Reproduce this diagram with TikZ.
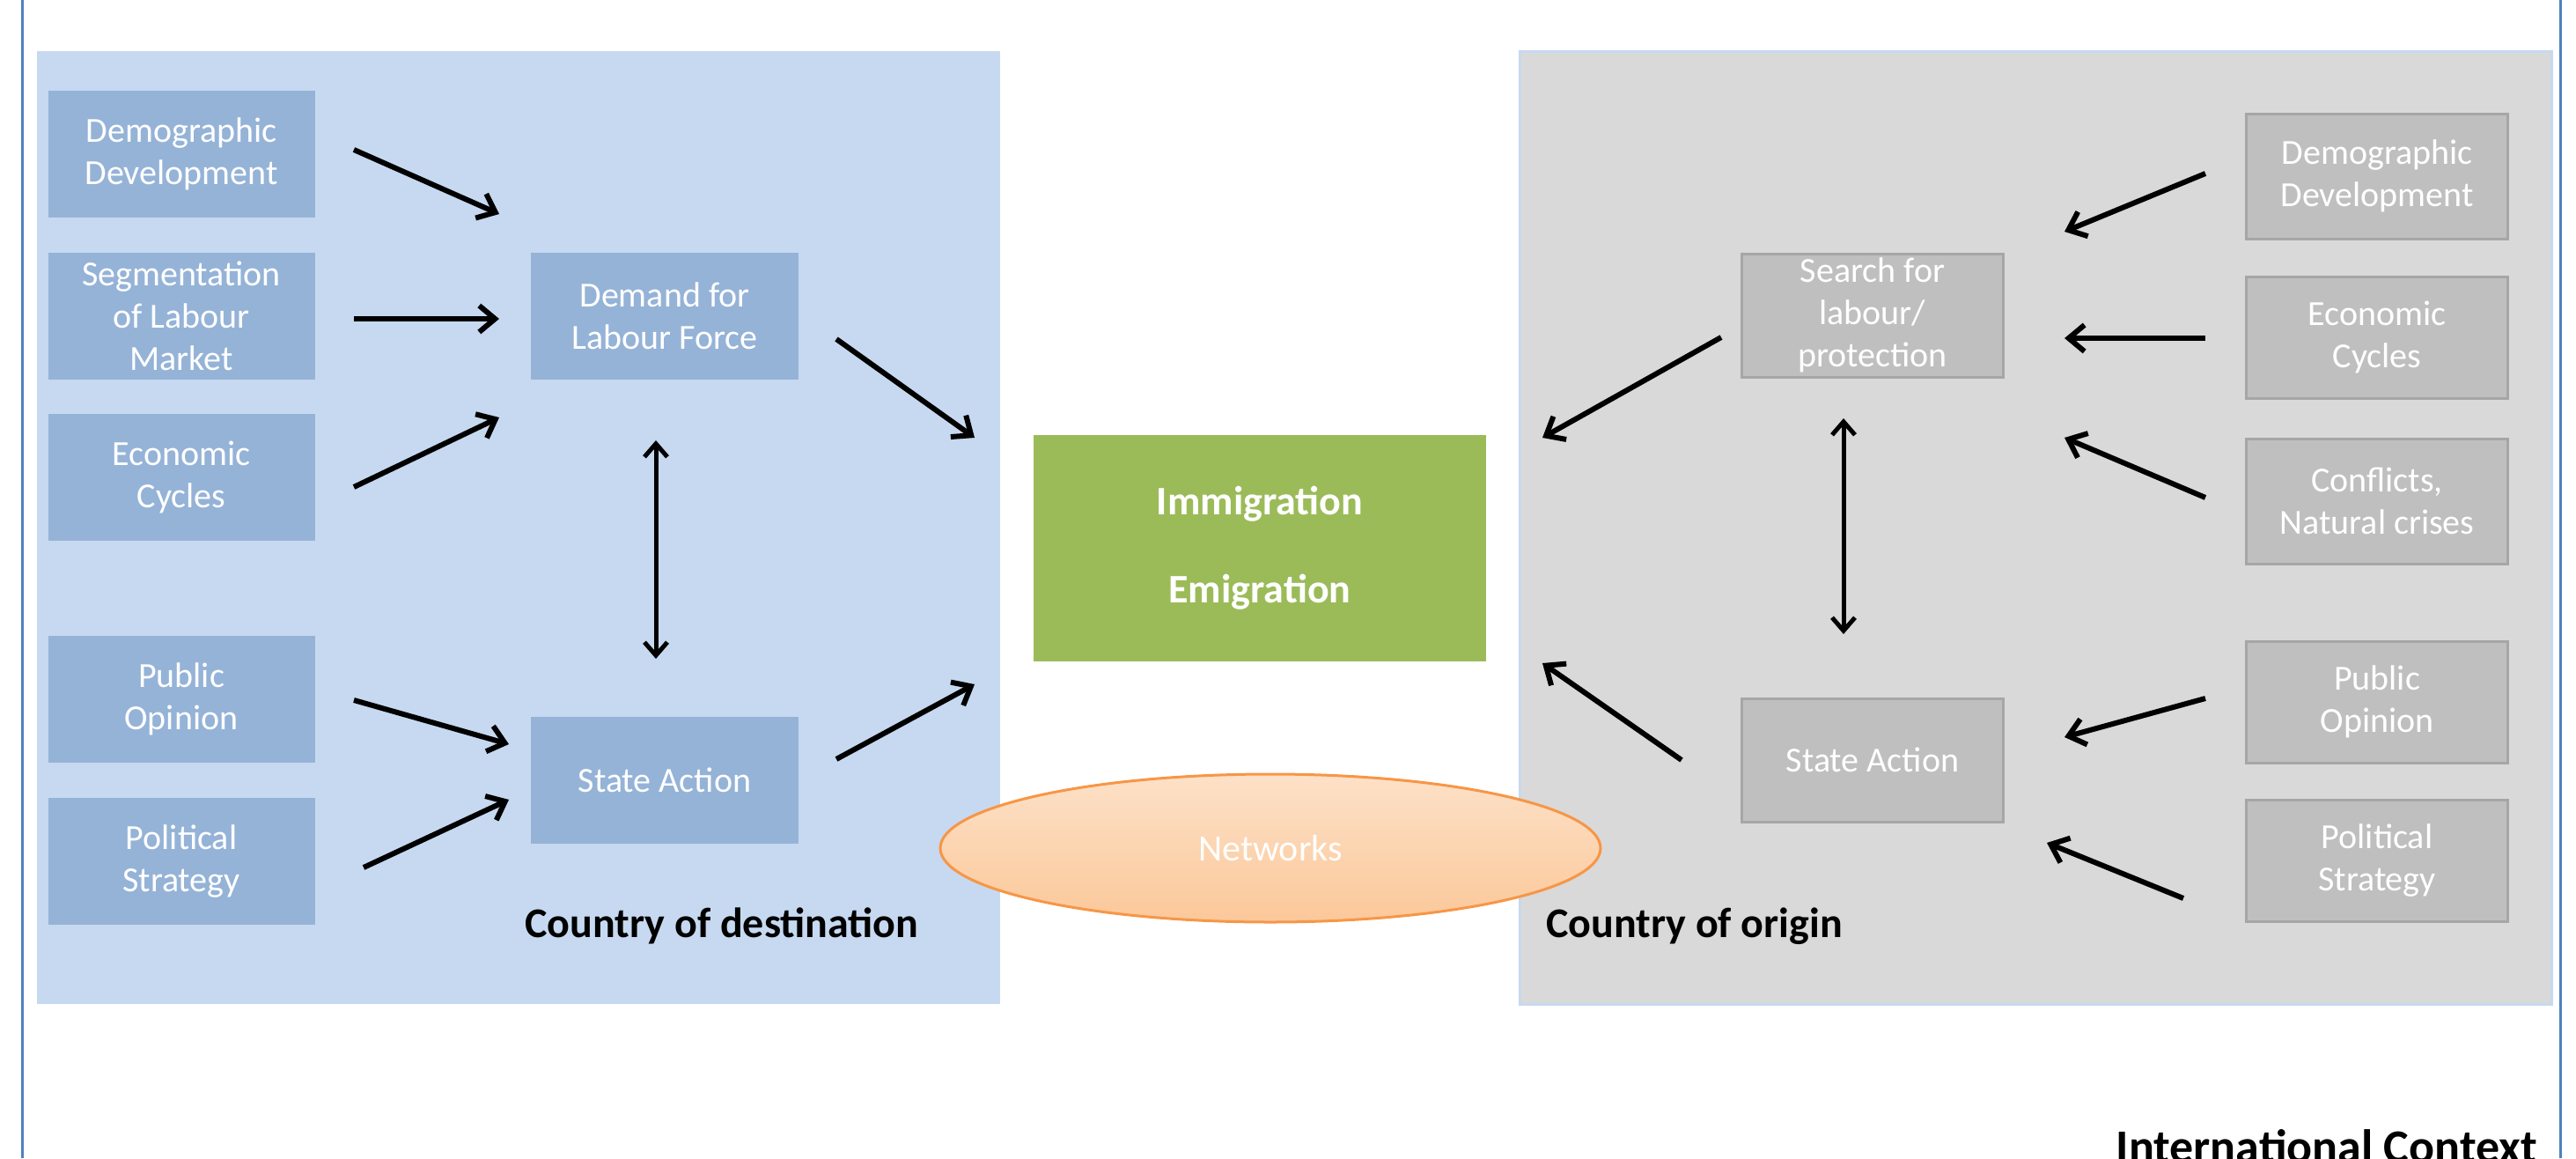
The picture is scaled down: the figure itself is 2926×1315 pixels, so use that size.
\documentclass[tikz,border=0pt]{standalone}
\usepackage{fontspec}
\setmainfont{Carlito}
\usetikzlibrary{arrows.meta,shapes.geometric}
\definecolor{panelL}{HTML}{C6D9F0}
\definecolor{panelR}{HTML}{D9D9D9}
\definecolor{boxL}{HTML}{95B3D7}
\definecolor{boxR}{HTML}{BFBFBF}
\definecolor{boxRb}{HTML}{A6A6A6}
\definecolor{grn}{HTML}{9BBB59}
\definecolor{frame}{HTML}{4F81BD}
\definecolor{orng}{HTML}{F79646}
\definecolor{orngf}{HTML}{FBC89A}
\tikzset{
  lbox/.style={fill=boxL,draw=none,text=white,align=center,inner sep=0pt,font=\fontsize{40}{48}\selectfont},
  rbox/.style={fill=boxR,draw=boxRb,line width=3pt,text=white,align=center,inner sep=0pt,font=\fontsize{40}{48}\selectfont},
  arr/.style={-{Straight Barb[length=18pt,width=30pt,line width=6pt]},line width=6pt,black},
  darr/.style={{Straight Barb[length=15pt,width=26pt,line width=5pt]}-{Straight Barb[length=15pt,width=26pt,line width=5pt]},line width=5pt,black},
  biglbl/.style={font=\fontsize{48}{56}\selectfont\bfseries,inner sep=0pt}
}
\begin{document}
\begin{tikzpicture}[x=1pt,y=-1pt]
\useasboundingbox (0,0) rectangle (2926,1315);
\draw[frame,line width=3pt] (25,0) -- (25,1315);
\draw[frame,line width=3pt] (2908,0) -- (2908,1315);
\fill[panelL] (42,58) rectangle (1136,1140);
\draw[fill=panelR,draw=panelL,line width=3pt] (1726,58) rectangle (2898,1140);
% left boxes
\node[lbox,minimum width=303pt,minimum height=144pt] (ldem) at (206,175) {Demographic\\Development};
\node[lbox,minimum width=303pt,minimum height=144pt] (lseg) at (206,359) {Segmentation\\of Labour\\Market};
\node[lbox,minimum width=303pt,minimum height=144pt] (leco) at (206,542) {Economic\\Cycles};
\node[lbox,minimum width=303pt,minimum height=144pt] (lpub) at (206,794) {Public\\Opinion};
\node[lbox,minimum width=303pt,minimum height=144pt] (lpol) at (206,978) {Political\\Strategy};
\node[lbox,minimum width=304pt,minimum height=144pt] (ldemand) at (755,359) {Demand for\\Labour Force};
\node[lbox,minimum width=304pt,minimum height=144pt] (lstate) at (755,886) {State Action};
% right boxes
\node[rbox,minimum width=297pt,minimum height=142pt] (rdem) at (2700,200) {Demographic\\Development};
\node[rbox,minimum width=297pt,minimum height=138pt] (reco) at (2700,383) {Economic\\Cycles};
\node[rbox,minimum width=297pt,minimum height=142pt] (rcon) at (2700,569) {Conflicts,\\Natural crises};
\node[rbox,minimum width=297pt,minimum height=138pt] (rpub) at (2700,797) {Public\\Opinion};
\node[rbox,minimum width=297pt,minimum height=138pt] (rpol) at (2700,977) {Political\\Strategy};
\node[rbox,minimum width=297pt,minimum height=140pt] (rsearch) at (2127,358) {Search for\\labour/\\protection};
\node[rbox,minimum width=297pt,minimum height=140pt] (rstate) at (2127,863) {State Action};
% center
\node[fill=grn,text=white,minimum width=514pt,minimum height=257pt,inner sep=0pt,align=center,font=\fontsize{46}{100}\selectfont\bfseries] (mig) at (1431,622) {Immigration\\Emigration};
\node[ellipse,draw=orng,line width=3pt,top color=orngf!55!white,bottom color=orngf,minimum width=750pt,minimum height=168pt,text=white,font=\fontsize{42}{50}\selectfont] (net) at (1443,963) {Networks};
% labels
\node[biglbl,anchor=base] (cdest) at (820,1064) {Country of destination};
\node[biglbl,anchor=base west] (corig) at (1756,1064) {Country of origin};
\node[font=\fontsize{54}{60}\selectfont\bfseries,anchor=base east,inner sep=0pt] (intl) at (2882,1320) {International Context};
% arrow coordinates
\foreach \n/\x/\y in {a1/402/170,b1/567/243,a2/402/362,b2/567/362,a3/402/553,b3/567/474,
  a4/402/795,b4/578/845,a5/413/985,b5/578/908,a6/950/385,b6/1107/497,a7/950/862,b7/1107/777,
  d1/745/500,d2/745/748,
  c1/2505/197,e1/2345/263,c2/2505/384,e2/2345/384,c3/2505/565,e3/2345/497,
  c4/2505/793,e4/2345/837,c5/2480/1020,e5/2325/957,c6/1955/383,e6/1752/497,c7/1910/863,e7/1752/753,
  f1/2094/475,f2/2094/720}
  \coordinate (\n) at (\x,\y);
\foreach \s/\t in {a1/b1,a2/b2,a3/b3,a4/b4,a5/b5,a6/b6,a7/b7,c1/e1,c2/e2,c3/e3,c4/e4,c5/e5,c6/e6,c7/e7}
  \draw[arr] (\s) -- (\t);
\draw[darr] (d1) -- (d2);
\draw[darr] (f1) -- (f2);
\end{tikzpicture}
\end{document}
